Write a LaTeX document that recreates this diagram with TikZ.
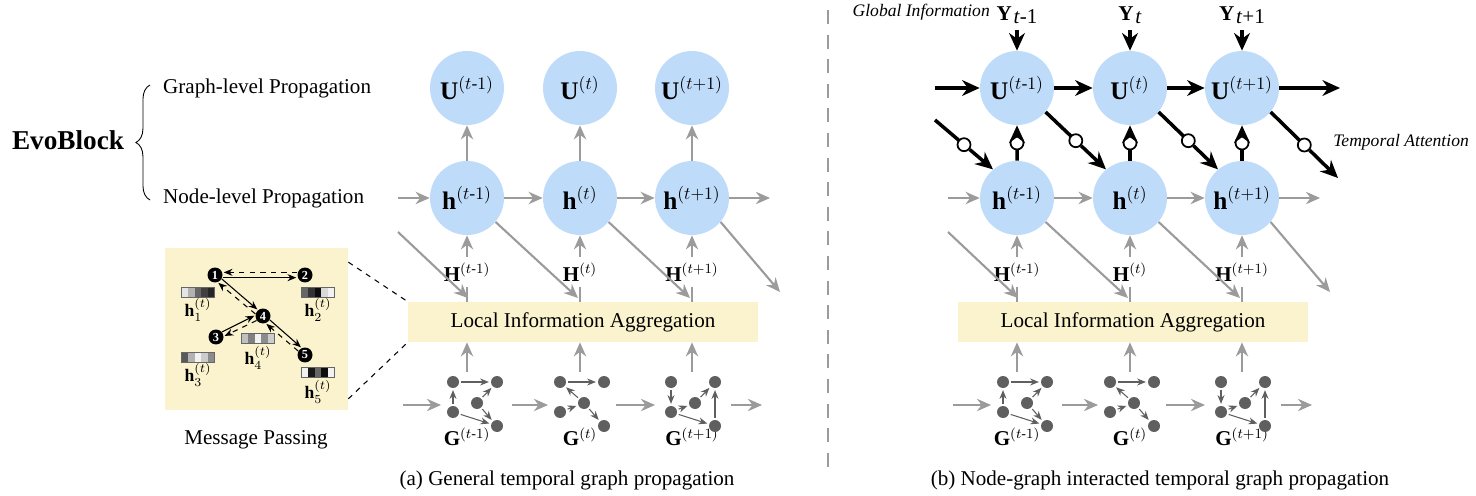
\documentclass[tikz,border=0pt]{standalone}
\usepackage{amsmath,amssymb}
\usepackage{fontspec}
\setmainfont{Liberation Serif}
\usetikzlibrary{arrows.meta,calc,decorations.pathreplacing}
\definecolor{cellblue}{RGB}{190,220,250}
\definecolor{boxyellow}{RGB}{250,243,205}
\definecolor{arrgray}{RGB}{155,155,155}
\definecolor{dotgray}{RGB}{95,95,95}
\tikzset{
  cell/.style={circle,fill=cellblue,minimum size=1.48cm,inner sep=0pt,font=\Large},
  garr/.style={draw=arrgray,line width=1.2pt,-{Stealth[length=8pt,width=7pt]}},
  barr/.style={draw=black,line width=2pt,-{Stealth[length=10pt,width=9pt]}},
  gate/.style={circle,draw=black,fill=white,line width=1pt,minimum size=0.26cm,inner sep=0pt},
  agg/.style={fill=boxyellow,minimum width=7cm,minimum height=0.8cm,font=\large},
  gdot/.style={circle,fill=dotgray,minimum size=0.24cm,inner sep=0pt},
  garrow/.style={draw=dotgray,line width=0.6pt,-{Stealth[length=5pt,width=4pt]},shorten >=1pt,shorten <=1pt},
  bnode/.style={circle,fill=black,text=white,font=\bfseries\scriptsize,minimum size=0.3cm,inner sep=0pt},
  lbl/.style={font=\large},
}
% common lower part of a panel: h row, H labels, aggregation box, graphs
\newcommand{\lowerpanel}[1]{%
  \foreach \i/\s/\x in {1/{(t\text{-}1)}/467,2/{(t)}/580,3/{(t+1)}/692}{
    \node[cell] (#1h\i) at (\x,198) {$\mathbf{h}^{\s}$};
    \node[lbl] (#1H\i) at (\x,272) {$\mathbf{H}^{\s}$};
    \node[lbl] (#1G\i) at (\x,437) {$\mathbf{G}^{\s}$};
  }
  \node[agg] (#1agg) at (583,322) {Local Information Aggregation};
  \coordinate (#1hin) at (398,198);
  \coordinate (#1hout) at (770,198);
  \draw[garr] (#1hin) -- (#1h1);
  \draw[garr] (#1h1) -- (#1h2);
  \draw[garr] (#1h2) -- (#1h3);
  \draw[garr] (#1h3) -- (#1hout);
  \coordinate (#1din) at (398,232);
  \coordinate (#1d1) at (468,298);
  \coordinate (#1d2) at (578,298);
  \coordinate (#1d3) at (690,298);
  \coordinate (#1d4) at (780,292);
  \draw[garr] (#1din) -- (#1d1);
  \draw[garr] (#1h1.-40) -- (#1d2);
  \draw[garr] (#1h2.-40) -- (#1d3);
  \draw[garr] (#1h3.-40) -- (#1d4);
  \foreach \i in {1,2,3}{
    \draw[draw=arrgray,line width=1.2pt] (#1H\i.south |- #1agg.north) -- (#1H\i.south);
    \draw[garr] (#1H\i) -- (#1h\i);
    \coordinate (#1up\i) at ($(#1G\i)+(0,-65)$);
    \draw[garr] (#1up\i) -- (#1H\i.south |- #1agg.south);
  }
  % small graphs
  \foreach \i/\x in {1/453,2/560,3/671}{
    \node[gdot] (#1g\i a) at (\x,382) {};
    \node[gdot] (#1g\i b) at (\x+44,382) {};
    \node[gdot] (#1g\i c) at (\x+24,403) {};
    \node[gdot] (#1g\i d) at (\x,412) {};
    \node[gdot] (#1g\i e) at (\x+44,426) {};
  }
  \draw[garrow] (#1g1d) -- (#1g1a);
  \draw[garrow] (#1g1a) -- (#1g1b);
  \draw[garrow] (#1g1c) -- (#1g1b);
  \draw[garrow] (#1g1d) -- (#1g1e);
  \draw[garrow] (#1g1c) -- (#1g1e);
  \draw[garrow] (#1g2a) -- (#1g2b);
  \draw[garrow] (#1g2c) -- (#1g2a);
  \draw[garrow] (#1g2d) -- (#1g2c);
  \draw[garrow] (#1g2c) -- (#1g2e);
  \draw[garrow] (#1g3a) -- (#1g3d);
  \draw[garrow] (#1g3d) -- (#1g3c);
  \draw[garrow] (#1g3c) -- (#1g3b);
  \draw[garrow] (#1g3d) -- (#1g3e);
  \draw[garrow] (#1g3e) -- (#1g3b);
  \coordinate (#1s0) at (403,405);
  \coordinate (#1s3) at (762,405);
  \draw[garr] (#1s0) -- ($(#1g1d)+(-12,-7)$);
  \draw[garr] ($(#1g1e)+(15,-21)$) -- ($(#1g2d)+(-12,-7)$);
  \draw[garr] ($(#1g2e)+(12,-21)$) -- ($(#1g3d)+(-16,-7)$);
  \draw[garr] ($(#1g3e)+(16,-21)$) -- (#1s3);
}
% feature vector bar
\newcommand{\fbar}[6]{%
  \foreach \k/\c in {0/#2,1/#3,2/#4,3/#5,4/#6}{
    \fill[black!\c] ($(#1)+(-16.5+6.6*\k,-5)$) rectangle ++(6.6,10);
  }
  \draw[black!60,line width=0.4pt] ($(#1)+(-16.5,-5)$) rectangle ++(33,10);
}
\begin{document}
\begin{tikzpicture}[x=0.02cm,y=-0.02cm]
\useasboundingbox (0,0) rectangle (1476,496);

% ---------- panel (a) ----------
\node[font=\fontsize{15.5}{18}\selectfont\bfseries] (evo) at (68,140) {EvoBlock};
\draw[decorate,decoration={brace,amplitude=8pt},line width=0.5pt] (150,200) -- (150,85);
\node[lbl,anchor=west] (glp) at (157,88) {Graph-level Propagation};
\node[lbl,anchor=west] (nlp) at (157,198) {Node-level Propagation};

\lowerpanel{a}
\foreach \i/\s/\x in {1/{(t\text{-}1)}/467,2/{(t)}/580,3/{(t+1)}/692}{
  \node[cell] (aU\i) at (\x,88) {$\mathbf{U}^{\s}$};
  \draw[garr] (ah\i) -- (aU\i);
}

% message passing box
\node[fill=boxyellow,minimum width=3.66cm,minimum height=3.26cm,inner sep=0pt] (mp) at (256.5,329) {};
\node[lbl] (mplbl) at (256,440) {Message Passing};
\draw[dashed,line width=0.6pt] (mp.north east) ++(0,15) coordinate (mpa) -- (aagg.north west);
\draw[dashed,line width=0.6pt] (mp.south east) ++(0,-12) coordinate (mpb) -- (aagg.south west);
\node[bnode] (n1) at (215,275) {1};
\node[bnode] (n2) at (305,275) {2};
\node[bnode] (n3) at (216,337) {3};
\node[bnode] (n4) at (263,316) {4};
\node[bnode] (n5) at (305,355) {5};
\tikzset{mps/.style={line width=0.6pt,-{Stealth[length=5pt,width=4pt]},shorten >=0.5pt}}
\draw[mps] ([yshift=-1.5pt]n1.east) -- ([yshift=-1.5pt]n2.west);
\draw[mps,dashed] ([yshift=1.5pt]n2.west) -- ([yshift=1.5pt]n1.east);
\draw[mps] (n1.-30) -- (n4.130);
\draw[mps,dashed] (n4.165) -- (n1.-70);
\draw[mps] (n3.40) -- (n4.175);
\draw[mps,dashed] (n4.215) -- (n3.5);
\draw[mps] (n4.-30) -- (n5.115);
\draw[mps,dashed] (n5.150) -- (n4.-70);
\fbar{198,292}{10}{30}{60}{75}{85}
\node (hv1) at (198,310) {$\mathbf{h}_1^{(t)}$};
\fbar{318,292}{60}{80}{95}{15}{5}
\node (hv2) at (318,310) {$\mathbf{h}_2^{(t)}$};
\fbar{198,357}{65}{30}{5}{20}{45}
\node (hv3) at (198,375) {$\mathbf{h}_3^{(t)}$};
\fbar{258,338}{25}{50}{5}{45}{20}
\node (hv4) at (258,358) {$\mathbf{h}_4^{(t)}$};
\fbar{318,372}{5}{90}{60}{95}{5}
\node (hv5) at (318,392) {$\mathbf{h}_5^{(t)}$};

\node[lbl] (capa) at (567,480) {(a) General temporal graph propagation};

% separator
\coordinate (sepa) at (828,10);
\coordinate (sepb) at (828,475);
\draw[arrgray,line width=1.2pt,dash pattern=on 8pt off 6pt] (sepa) -- (sepb);

% ---------- panel (b) ----------
\begin{scope}[xshift=550*0.02cm]
\lowerpanel{b}
\foreach \i/\s/\x/\y in {1/{(t\text{-}1)}/467,2/{(t)}/580,3/{(t+1)}/692}{
  \node[cell] (bU\i) at (\x,88) {$\mathbf{U}^{\s}$};
  \draw[line width=2pt] (bh\i) -- ($(bh\i)!0.5!(bU\i)$) node[gate] (bgv\i) {};
  \draw[barr] (bgv\i) -- (bU\i);
}
\node[lbl] (bY1) at (467,15) {$\mathbf{Y}$\kern1pt\raisebox{-2pt}{\textit{t}-1}};
\node[lbl] (bY2) at (580,15) {$\mathbf{Y}$\kern1pt\raisebox{-2pt}{\textit{t}}};
\node[lbl] (bY3) at (692,15) {$\mathbf{Y}$\kern1pt\raisebox{-2pt}{\textit{t}+1}};
\foreach \i in {1,2,3}{\draw[barr] (bY\i) -- (bU\i);}
\coordinate (bUin) at (385,88);
\coordinate (bUout) at (790,88);
\draw[barr] (bUin) -- (bU1);
\draw[barr] (bU1) -- (bU2);
\draw[barr] (bU2) -- (bU3);
\draw[barr] (bU3) -- (bUout);
\coordinate (bt0) at (385,120);
\coordinate (bt4) at (788,178);
\draw[line width=2pt] (bt0) -- ($(bt0)!0.5!(bh1.130)$) node[gate] (bgd1) {};
\draw[barr] (bgd1) -- (bh1.130);
\draw[line width=2pt] (bU1.-40) -- ($(bU1.-40)!0.5!(bh2.130)$) node[gate] (bgd2) {};
\draw[barr] (bgd2) -- (bh2.130);
\draw[line width=2pt] (bU2.-40) -- ($(bU2.-40)!0.5!(bh3.130)$) node[gate] (bgd3) {};
\draw[barr] (bgd3) -- (bh3.130);
\draw[line width=2pt] (bU3.-40) -- ($(bU3.-40)!0.5!(bt4)$) node[gate] (bgd4) {};
\draw[barr] (bgd4) -- (bt4);
\node[font=\itshape,anchor=east] (glob) at (446,12) {Global Information};
\node[font=\itshape,anchor=east] (tatt) at (925,142) {Temporal Attention};
\node[lbl] (capb) at (610,480) {(b) Node-graph interacted temporal graph propagation};
\end{scope}
\end{tikzpicture}
\end{document}
